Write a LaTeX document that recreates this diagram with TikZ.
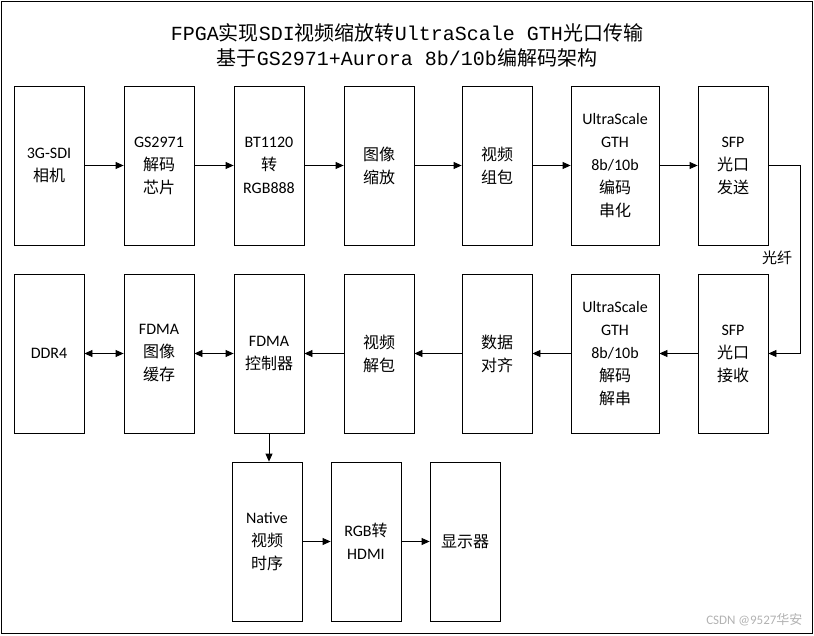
\documentclass[tikz,border=0pt]{standalone}
\usepackage{fontspec}
\setmainfont{Carlito}
\newfontfamily\cjk{Noto Sans CJK SC}
\newfontfamily\mono{Liberation Mono}
\usetikzlibrary{arrows.meta}
\begin{document}
\begin{tikzpicture}[x=1pt,y=-1pt,
 bx/.style={draw,line width=0.8pt,align=center,font=\fontsize{16}{23}\selectfont,inner sep=0pt},
 ar/.style={-{Triangle[length=8pt,width=7pt]},line width=0.8pt},
 dar/.style={{Triangle[length=8pt,width=7pt]}-{Triangle[length=8pt,width=7pt]},line width=0.8pt}]
\draw[line width=0.6pt] (1,1) rectangle (812,633);
\useasboundingbox (0,0) rectangle (814,636);
\node[font=\fontsize{20}{25}\selectfont,align=center] (title) at (407,45)
 {{\mono FPGA}{\cjk 实现}{\mono SDI}{\cjk 视频缩放转}{\mono UltraScale GTH}{\cjk 光口传输}\\
  {\cjk 基于}{\mono GS2971+Aurora 8b/10b}{\cjk 编解码架构}};
% row 1
\node[bx,minimum width=70,minimum height=159] (a1) at (49,165.5) {3G-SDI\\{\cjk 相机}};
\node[bx,minimum width=70,minimum height=159] (a2) at (159,165.5) {GS2971\\{\cjk 解码}\\{\cjk 芯片}};
\node[bx,minimum width=70,minimum height=159] (a3) at (269,165.5) {BT1120\\{\cjk 转}\\RGB888};
\node[bx,minimum width=70,minimum height=159] (a4) at (379,165.5) {{\cjk 图像}\\{\cjk 缩放}};
\node[bx,minimum width=70,minimum height=159] (a5) at (497,165.5) {{\cjk 视频}\\{\cjk 组包}};
\node[bx,minimum width=88,minimum height=159] (a6) at (615,165.5) {UltraScale\\GTH\\8b/10b\\{\cjk 编码}\\{\cjk 串化}};
\node[bx,minimum width=70,minimum height=159] (a7) at (733,165.5) {SFP\\{\cjk 光口}\\{\cjk 发送}};
% row 2
\node[bx,minimum width=70,minimum height=159] (b1) at (49,353.5) {DDR4};
\node[bx,minimum width=70,minimum height=159] (b2) at (159,353.5) {FDMA\\{\cjk 图像}\\{\cjk 缓存}};
\node[bx,minimum width=70,minimum height=159] (b3) at (269,353.5) {FDMA\\{\cjk 控制器}};
\node[bx,minimum width=70,minimum height=159] (b4) at (379,353.5) {{\cjk 视频}\\{\cjk 解包}};
\node[bx,minimum width=70,minimum height=159] (b5) at (497,353.5) {{\cjk 数据}\\{\cjk 对齐}};
\node[bx,minimum width=88,minimum height=159] (b6) at (615,353.5) {UltraScale\\GTH\\8b/10b\\{\cjk 解码}\\{\cjk 解串}};
\node[bx,minimum width=70,minimum height=159] (b7) at (733,353.5) {SFP\\{\cjk 光口}\\{\cjk 接收}};
% row 3
\node[bx,minimum width=70,minimum height=159] (c1) at (267,541.5) {Native\\{\cjk 视频}\\{\cjk 时序}};
\node[bx,minimum width=70,minimum height=159] (c2) at (366,541.5) {RGB{\cjk 转}\\HDMI};
\node[bx,minimum width=70,minimum height=159] (c3) at (465,541.5) {{\cjk 显示器}};
% connectors
\foreach \p/\q in {a1/a2,a2/a3,a3/a4,a4/a5,a5/a6,a6/a7,b7/b6,b6/b5,b5/b4,b4/b3,c1/c2,c2/c3}
 \draw[ar] (\p) -- (\q);
\draw[dar] (b1) -- (b2);
\draw[dar] (b2) -- (b3);
\draw[ar] (b3.south) -- (c1.north-|b3.south);
\coordinate (k1) at (800,165.5);
\coordinate (k2) at (800,353.5);
\draw[ar] (a7.east) -- (k1) -- (k2) -- (b7.east);
\node[font=\fontsize{15}{18}\selectfont\cjk] (lbl) at (777,258) {光纤};
\node[font=\fontsize{13}{15}\selectfont,text=gray!60,anchor=east] (wm) at (806,620) {CSDN @9527{\cjk 华安}};
\end{tikzpicture}
\end{document}
